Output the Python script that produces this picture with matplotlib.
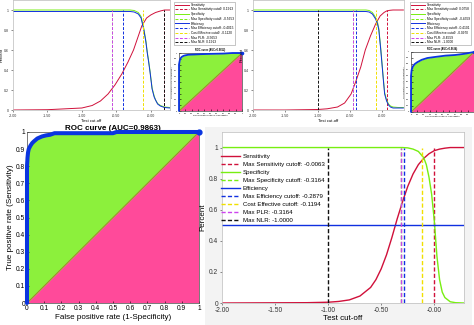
import matplotlib
matplotlib.use("Agg")
import matplotlib.pyplot as plt
from matplotlib.patches import Rectangle, Polygon

plt.rcParams["font.family"] = ["Liberation Sans", "DejaVu Sans"]

W, H = 474, 325

RED = "#d0103a"
GREEN = "#77ee11"
BLUE = "#1030e0"
YELLOW = "#f0e000"
MAGENTA = "#cc44ee"
BLACK = "#111111"
CUT_COLORS = [RED, GREEN, BLUE, YELLOW, MAGENTA, BLACK]
CUT_NAMES = ["Max Sensitivity cutoff", "Max Specificity cutoff", "Max Efficiency cutoff",
             "Cost Effective cutoff", "Max PLR", "Max NLR"]

ROC_FILL_GREEN = "#8cf03c"
ROC_FILL_PINK = "#ff4a9a"
ROC_LINE = "#0a35e0"

# ---- main ROC (bottom left) ----
ROC_AUC = 0.9863
ROC_FPR = [0, 0, 0.003, 0.006, 0.01, 0.02, 0.03, 0.04, 0.06, 0.087, 0.11, 0.135, 0.16, 0.5, 0.52, 1.0]
ROC_TPR = [0, 0.8, 0.85, 0.88, 0.9, 0.92, 0.935, 0.945, 0.962, 0.974, 0.98, 0.984, 0.993, 0.993, 1.0, 1.0]

# ---- main cut-off curves (bottom right) ----
SENS_X = [-2.0, -1.2, -1.0, -0.9, -0.8, -0.7, -0.6, -0.55, -0.5, -0.45, -0.4, -0.35, -0.3,
          -0.25, -0.2, -0.15, -0.1, -0.05, 0.0, 0.05, 0.1, 0.15, 0.28]
SENS = [0.0, 0.002, 0.005, 0.01, 0.02, 0.045, 0.1, 0.15, 0.22, 0.31, 0.42, 0.54, 0.65,
        0.75, 0.83, 0.89, 0.93, 0.96, 0.98, 0.99, 0.996, 1.0, 1.0]
SPEC_X = [-2.0, -0.3, -0.25, -0.2, -0.15, -0.1, -0.075, -0.05, -0.025, 0.0, 0.025, 0.05,
          0.075, 0.1, 0.15, 0.2, 0.28]
SPEC = [1.0, 1.0, 0.998, 0.99, 0.975, 0.935, 0.89, 0.81, 0.70, 0.53, 0.30, 0.15,
        0.07, 0.035, 0.008, 0.002, 0.0]
EFF_X = [-2.0, 0.28]
EFF = [0.5, 0.5]
CUT_VALUES = [-0.0063, -0.3164, -0.2879, -0.1194, -0.3164, -1.0000]

# ---- top left panel ----
TL_SENS_X = [-2.0, -1.5, -1.0, -0.85, -0.73, -0.62, -0.52, -0.42, -0.33, -0.25, -0.2,
             -0.13, -0.06, 0.0, 0.07, 0.14, 0.2, 0.28]
TL_SENS = [0.0, 0.003, 0.02, 0.045, 0.09, 0.16, 0.25, 0.36, 0.48, 0.6, 0.7,
           0.84, 0.92, 0.95, 0.975, 0.99, 1.0, 1.0]
TL_DROP_X = [-2.0, -0.3, -0.24, -0.18, -0.14, -0.1, -0.07, -0.05, -0.03, -0.01, 0.02,
             0.05, 0.07, 0.1, 0.14, 0.2, 0.28]
TL_SPEC = [1.0, 1.0, 0.995, 0.975, 0.935, 0.815, 0.69, 0.58, 0.49, 0.39, 0.22,
           0.14, 0.1, 0.065, 0.045, 0.03, 0.025]
TL_EFF = [0.985, 0.985, 0.98, 0.96, 0.92, 0.8, 0.68, 0.57, 0.48, 0.38, 0.21,
          0.13, 0.1, 0.06, 0.04, 0.025, 0.02]
TL_CUTS = [0.1913, -0.5653, -0.4015, -0.1120, -0.5653, 0.1913]
TL_ROC_AUC = 0.9812
TL_ROC_FPR = [0, 0, 0.01, 0.02, 0.04, 0.07, 0.1, 0.15, 0.25, 0.35, 0.5, 0.7, 0.85, 1.0]
TL_ROC_TPR = [0, 0.8, 0.86, 0.9, 0.93, 0.95, 0.96, 0.97, 0.975, 0.98, 0.985, 0.99, 1.0, 1.0]

# ---- top right panel ----
TR_SENS_X = [-2.0, -1.5, -1.0, -0.85, -0.69, -0.58, -0.48, -0.41, -0.33, -0.26, -0.18,
             -0.1, -0.03, 0.03, 0.07, 0.12, 0.17, 0.33]
TR_SENS = [0.0, 0.0, 0.005, 0.012, 0.03, 0.07, 0.16, 0.28, 0.43, 0.6, 0.74,
           0.86, 0.94, 0.975, 0.99, 0.997, 1.0, 1.0]
TR_DROP_X = [-2.0, -0.25, -0.2, -0.15, -0.1, -0.07, -0.05, -0.02, 0.0, 0.02, 0.04,
             0.07, 0.1, 0.13, 0.17, 0.25, 0.33]
TR_SPEC = [1.0, 1.0, 0.995, 0.975, 0.925, 0.875, 0.815, 0.615, 0.465, 0.315, 0.175,
           0.1, 0.06, 0.04, 0.03, 0.025, 0.025]
TR_EFF = [0.985, 0.985, 0.98, 0.96, 0.91, 0.86, 0.8, 0.6, 0.45, 0.3, 0.16,
          0.09, 0.05, 0.03, 0.02, 0.02, 0.02]
TR_CUTS = [0.0758, -0.4559, -0.4101, -0.0970, -0.4559, -1.0000]
TR_ROC_AUC = 0.9624
TR_ROC_FPR = [0, 0, 0.01, 0.03, 0.06, 0.1, 0.17, 0.26, 0.4, 0.55, 0.7, 0.85, 1.0]
TR_ROC_TPR = [0, 0.6, 0.7, 0.76, 0.8, 0.83, 0.87, 0.9, 0.92, 0.94, 0.95, 0.97, 1.0]


def px_axes(fig, x0, y0, x1, y1):
    # pixel box (top-left origin) -> figure axes
    return fig.add_axes([x0 / W, 1 - y1 / H, (x1 - x0) / W, (y1 - y0) / H])


def cutoff_panel(ax, sens_x, sens, spec_x, spec, eff_x, eff, cuts, xmax, fs, lw):
    dash = (0, (3, 1.6))
    ax.plot(sens_x, sens, color=RED, lw=lw, label="Sensitivity")
    ax.plot([cuts[0]] * 2, [0, 1], color=CUT_COLORS[0], lw=lw, ls=dash,
            label=f"{CUT_NAMES[0]}: {cuts[0]:.4f}")
    ax.plot(spec_x, spec, color=GREEN, lw=lw, label="Specificity")
    ax.plot([cuts[1]] * 2, [0, 1], color=CUT_COLORS[1], lw=lw, ls=dash,
            label=f"{CUT_NAMES[1]}: {cuts[1]:.4f}")
    ax.plot(eff_x, eff, color=BLUE, lw=lw, label="Efficiency")
    for i in range(2, 6):
        ax.plot([cuts[i]] * 2, [0, 1], color=CUT_COLORS[i], lw=lw, ls=dash,
                label=f"{CUT_NAMES[i]}: {cuts[i]:.4f}")
    ax.set_xlim(-2.0, xmax)
    ax.set_ylim(0, 1.1)
    ax.set_xticks([-2.0, -1.5, -1.0, -0.5, 0.0])
    ax.set_xticklabels(["-2.00", "-1.50", "-1.00", "-0.50", "-0.00"])
    ax.set_yticks([0, 0.2, 0.4, 0.6, 0.8, 1])
    ax.set_yticklabels(["0", "0.2", "0.4", "0.6", "0.8", "1"])
    ax.tick_params(labelsize=fs, length=1.5, width=0.4, pad=1.2, colors="#333333")
    for s in ax.spines.values():
        s.set_color("#bbbbbb")
        s.set_linewidth(0.5)
    ax.set_xlabel("Test cut-off", fontsize=fs * 1.15, labelpad=1)
    ax.set_ylabel("Percent", fontsize=fs * 1.15, labelpad=0.5)


def small_legend(ax, x_px):
    leg = ax.legend(loc="upper left", bbox_to_anchor=(x_px / W, 1.0),
                    bbox_transform=ax.figure.transFigure, fontsize=2.3, frameon=True,
                    fancybox=False, edgecolor="#999999", labelspacing=0.22,
                    handlelength=4.5, handletextpad=0.6, borderpad=0.35, framealpha=1)
    leg.get_frame().set_linewidth(0.4)


def roc_panel(ax, fpr, tpr, auc, fs, lw, title_fs):
    ax.add_patch(Polygon([(0, 0), (1, 0), (1, 1)], closed=True, color=ROC_FILL_PINK, lw=0))
    ax.fill_between(fpr, fpr, tpr, color=ROC_FILL_GREEN, lw=0)
    ax.plot([0, 1], [0, 1], color="#a8642a", lw=0.5)
    ax.plot(fpr, tpr, color=ROC_LINE, lw=lw, solid_capstyle="round", clip_on=False, zorder=5)
    ax.plot([1], [1], "o", color=ROC_LINE, ms=lw * 1.2, clip_on=False, zorder=5)
    ax.set_xlim(0, 1)
    ax.set_ylim(0, 1)
    ticks = [i / 10 for i in range(11)]
    labels = ["0"] + [f"{t:.1f}" for t in ticks[1:-1]] + ["1"]
    ax.set_xticks(ticks)
    ax.set_xticklabels(labels)
    ax.set_yticks(ticks)
    ax.set_yticklabels(labels)
    ax.tick_params(labelsize=fs, length=1.5, width=0.4, pad=1.5, direction="in")
    for s in ax.spines.values():
        s.set_linewidth(0.5)
        s.set_color("#444444")
    ax.set_title(f"ROC curve (AUC={auc:.4f})", fontsize=title_fs, fontweight="bold", pad=1.2)


fig = plt.figure(figsize=(W / 100, H / 100), dpi=100)
fig.patch.set_facecolor("white")

# light frame behind the bottom right panel
fig.patches.append(Rectangle((205 / W, 0), 267 / W, 198 / H, transform=fig.transFigure,
                             facecolor="#f3f3f3", edgecolor="none", zorder=-5))

# ---- top left ----
ax_tl = px_axes(fig, 13, 0, 170, 110)
cutoff_panel(ax_tl, TL_SENS_X, TL_SENS, TL_DROP_X, TL_SPEC, TL_DROP_X, TL_EFF, TL_CUTS,
             0.28, 2.6, 0.7)
small_legend(ax_tl, 172)
ax_tl_roc = px_axes(fig, 179, 53, 242, 111)
roc_panel(ax_tl_roc, TL_ROC_FPR, TL_ROC_TPR, TL_ROC_AUC, 1.5, 1.3, 1.8)
ax_tl_roc.set_xlabel("False positive rate (1-Specificity)", fontsize=1.7, labelpad=0.5)
ax_tl_roc.set_ylabel("True positive rate (Sensitivity)", fontsize=1.7, labelpad=0.5)

# ---- top right ----
ax_tr = px_axes(fig, 253, 0, 404, 110)
cutoff_panel(ax_tr, TR_SENS_X, TR_SENS, TR_DROP_X, TR_SPEC, TR_DROP_X, TR_EFF, TR_CUTS,
             0.34, 2.6, 0.7)
small_legend(ax_tr, 408)
ax_tr_roc = px_axes(fig, 411, 52, 474, 112)
roc_panel(ax_tr_roc, TR_ROC_FPR, TR_ROC_TPR, TR_ROC_AUC, 1.5, 1.3, 1.8)
ax_tr_roc.set_xlabel("False positive rate (1-Specificity)", fontsize=1.7, labelpad=0.5)
ax_tr_roc.set_ylabel("True positive rate (Sensitivity)", fontsize=1.7, labelpad=0.5)

# ---- bottom left: ROC ----
ax_roc = px_axes(fig, 27, 132, 199, 303)
roc_panel(ax_roc, ROC_FPR, ROC_TPR, ROC_AUC, 4.8, 2.9, 5.8)
ax_roc.set_xlabel("False positive rate (1-Specificity)", fontsize=5.8, labelpad=1.5)
ax_roc.set_ylabel("True positive rate (Sensitivity)", fontsize=5.8, labelpad=1)

# ---- bottom right: cut-off curves ----
ax_cut = px_axes(fig, 222, 132, 464, 303)
ax_cut.set_facecolor("white")
cutoff_panel(ax_cut, SENS_X, SENS, SPEC_X, SPEC, EFF_X, EFF, CUT_VALUES, 0.28, 4.8, 1.0)
ax_cut.xaxis.label.set_size(5.8)
ax_cut.yaxis.label.set_size(5.8)
ax_cut.yaxis.labelpad = 2
ax_cut.legend(loc="upper left", bbox_to_anchor=(-0.02, 0.90), fontsize=4.4, frameon=False,
              labelspacing=0.45, handlelength=3.0, handletextpad=0.5, borderpad=0.2)

fig.savefig("out.png", dpi=100, facecolor=fig.get_facecolor())
